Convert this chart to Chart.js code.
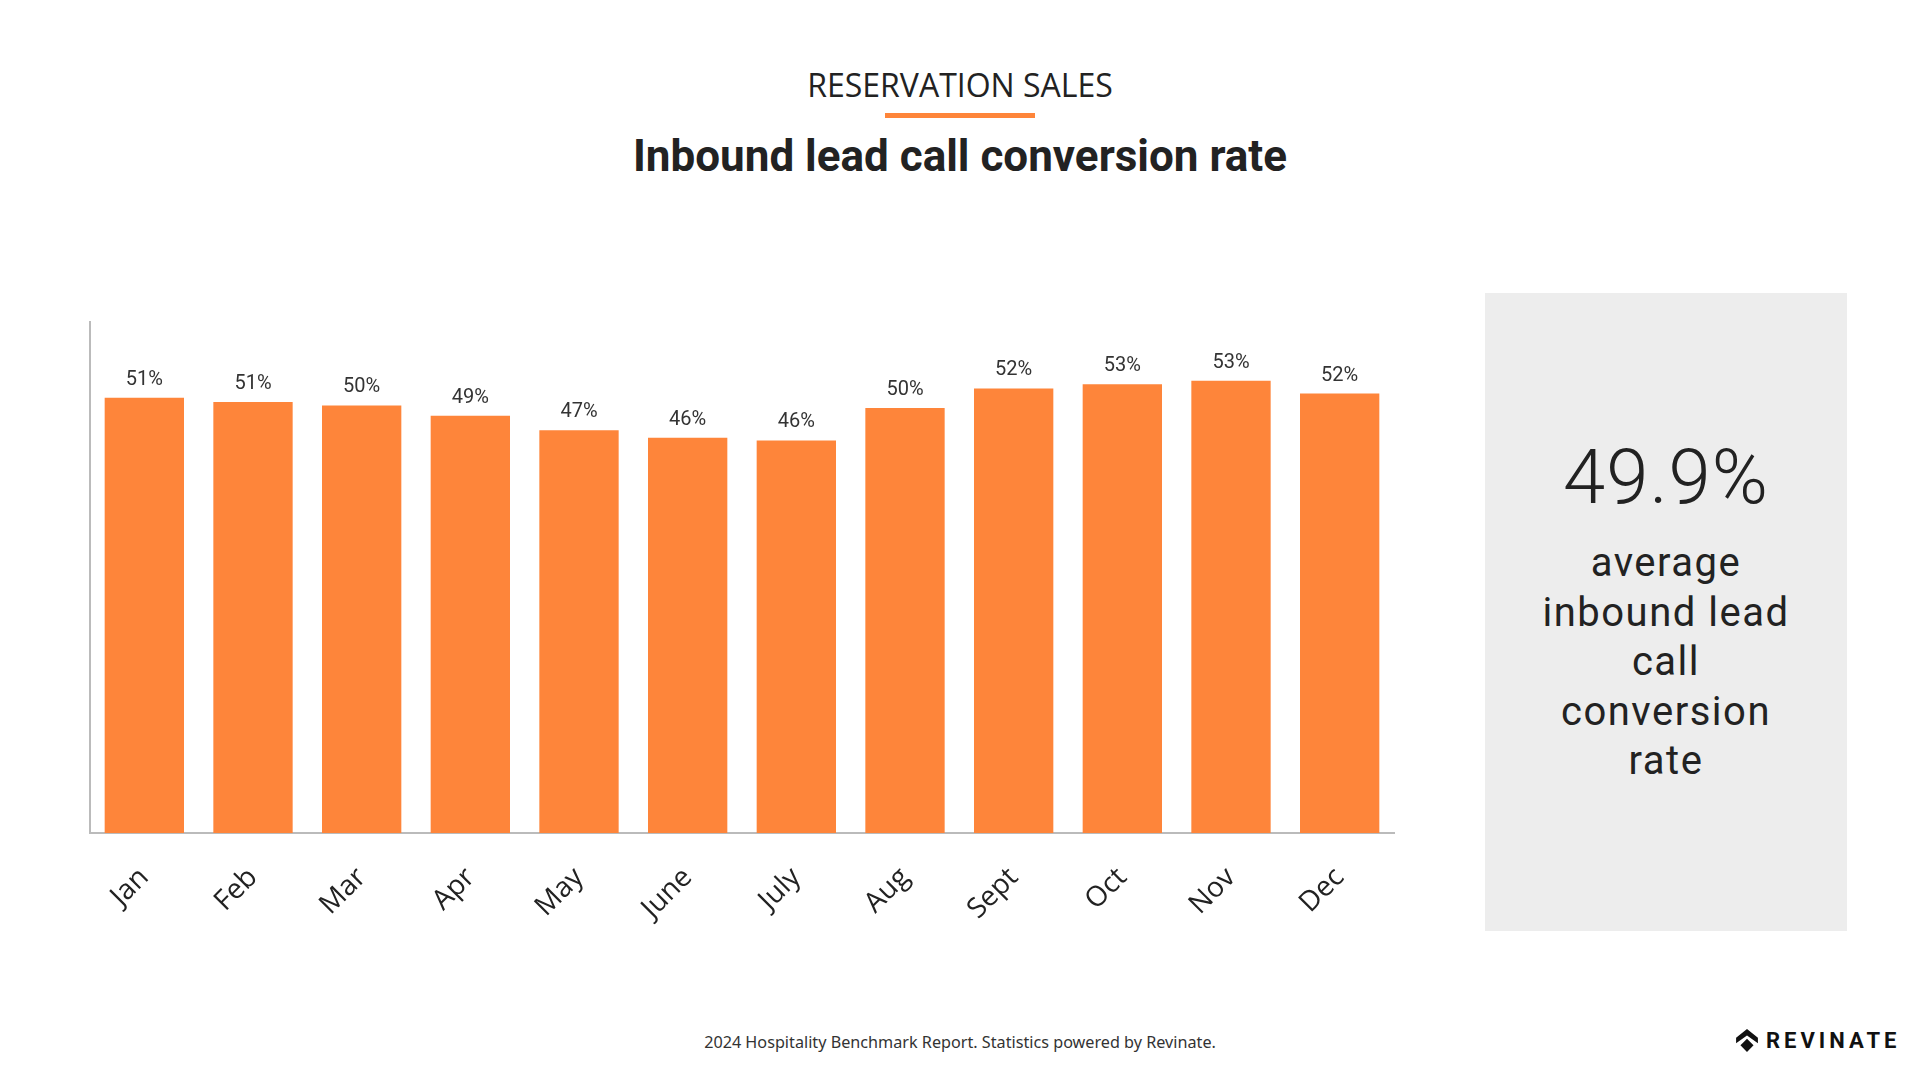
<!doctype html>
<html>
<head>
<meta charset="utf-8">
<script src="https://cdn.jsdelivr.net/npm/chart.js"></script>
<style>
body {
	margin: 0;
	width: 1920px;
	height: 1080px;
	background: #fff;
	position: relative;
	overflow: hidden;
	font-family: Roboto, 'Open Sans', sans-serif;
	color: #222;
}
.kicker {
	position: absolute;
	top: 63px;
	left: 0;
	width: 1920px;
	text-align: center;
	font-family: 'Open Sans', sans-serif;
	font-size: 32px;
	color: #222;
}
.rule {
	position: absolute;
	left: 885px;
	top: 113px;
	width: 150px;
	height: 5px;
	background: #fe853a;
}
.title {
	position: absolute;
	top: 130px;
	left: 0;
	width: 1920px;
	text-align: center;
	font-size: 44px;
	font-weight: 700;
	color: #222;
}
#box {
	position: absolute;
	left: 1485px;
	top: 293px;
	width: 362px;
	height: 638px;
	background: #ededed;
}
.big {
	position: absolute;
	top: 432px;
	left: 1485px;
	width: 362px;
	text-align: center;
	font-size: 76px;
	font-weight: 300;
	letter-spacing: 1px;
	color: #222;
}
.desc {
	position: absolute;
	top: 538px;
	left: 1485px;
	width: 362px;
	text-align: center;
	font-size: 40px;
	line-height: 49.5px;
	letter-spacing: 1.5px;
	color: #222;
}
.foot {
	position: absolute;
	top: 1031px;
	left: 0;
	width: 1920px;
	text-align: center;
	font-family: 'Noto Sans', sans-serif;
	font-size: 16.2px;
	color: #333;
}
.logo {
	position: absolute;
	left: 1736px;
	top: 1028px;
	font-size: 22px;
	font-weight: 700;
	letter-spacing: 4px;
	color: #111;
	display: flex;
	align-items: center;
}
.logo svg { margin-right: 8px; }
#wrap {
	position: absolute;
	left: 62px;
	top: 300px;
	width: 1358px;
	height: 654px;
}
</style>
</head>
<body>
<div class="kicker">RESERVATION SALES</div>
<div class="rule"></div>
<div class="title">Inbound lead call conversion rate</div>

<div id="wrap"><canvas id="myChart"></canvas></div>

<div id="box"></div>
<div class="big">49.9%</div>
<div class="desc">average<br>inbound lead<br>call<br>conversion<br>rate</div>

<div class="foot">2024 Hospitality Benchmark Report. Statistics powered by Revinate.</div>
<div class="logo">
	<svg width="22" height="24" viewBox="0 0 20 22"><path d="M10 0 L20 8 L20 13 L10 6 L0 13 L0 8 Z" fill="#111"/><path d="M10 9 L16 15 L10 21 L4 15 Z" fill="#111"/></svg>
	REVINATE
</div>

<script>
	var months = ['Jan', 'Feb', 'Mar', 'Apr', 'May', 'June', 'July', 'Aug', 'Sept', 'Oct', 'Nov', 'Dec'];
	var rates = [51.1, 50.6, 50.2, 49.0, 47.3, 46.4, 46.1, 49.9, 52.2, 52.7, 53.1, 51.6];
	var yMax = 60;

	// draws the "51%" labels above the bars
	var barLabels = {
		id: 'barLabels',
		afterDatasetsDraw: function(chart) {
			var c = chart.ctx;
			var meta = chart.getDatasetMeta(0);
			c.save();
			c.font = '20px Roboto';
			c.fillStyle = '#333';
			c.textAlign = 'center';
			c.textBaseline = 'bottom';
			meta.data.forEach(function(bar, i) {
				c.fillText(Math.round(rates[i]) + '%', bar.x, bar.y - 8);
			});
			c.restore();
		}
	};

	const ctx = new Chart(document.getElementById('myChart'), {
		type: 'bar',
		data: {
			labels: months,
			datasets: [
				{
					label: 'Conversion rate',
					backgroundColor: '#fe853a',
					data: rates,
					barPercentage: 0.73,
					categoryPercentage: 1
				}
			]
		},
		options: {
			responsive: true,
			maintainAspectRatio: false,
			animation: false,
			layout: {
				padding: { left: 28, right: 26, top: 22, bottom: 0 }
			},
			plugins: {
				legend: { display: false },
				tooltip: { enabled: false }
			},
			scales: {
				x: {
					grid: { display: false, drawTicks: false },
					border: { display: true, color: '#bbb', width: 2 },
					ticks: {
						color: '#222',
						font: { family: 'Open Sans', size: 28 },
						minRotation: 45,
						maxRotation: 45,
						padding: 28
					}
				},
				y: {
					min: 0,
					max: yMax,
					grid: { display: false, drawTicks: false },
					border: { display: true, color: '#bbb', width: 2 },
					ticks: { display: false }
				}
			}
		},
		plugins: [barLabels]
	});
</script>
</body>
</html>
